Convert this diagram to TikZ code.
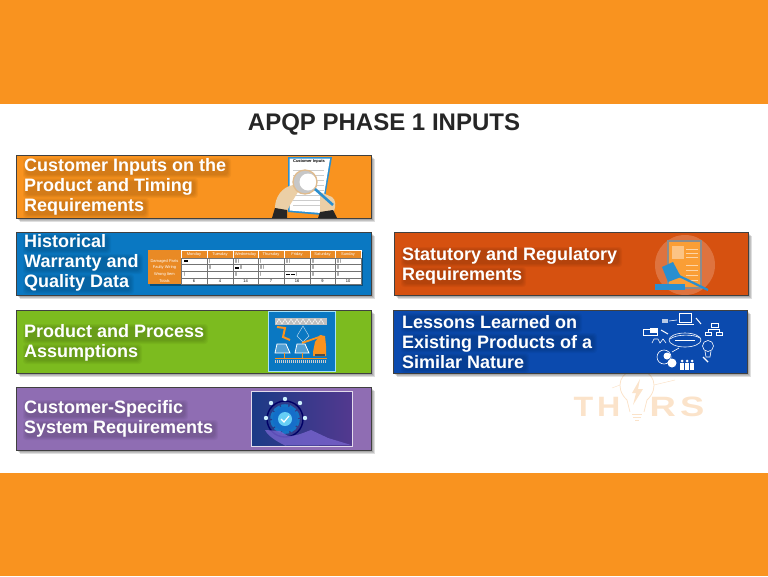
\documentclass[tikz,border=0pt]{standalone}
\usepackage{fontspec}
\setmainfont{Liberation Sans}
\definecolor{bandorange}{HTML}{F9931F}
\definecolor{tableorange}{HTML}{E98A25}
\definecolor{histblue}{HTML}{0A78C2}
\definecolor{assumgreen}{HTML}{7CBB1F}
\definecolor{specpurple}{HTML}{8F6DB3}
\definecolor{statred}{HTML}{D65110}
\definecolor{lessonblue}{HTML}{0B4AAE}
\definecolor{markorange}{HTML}{FBE3CA}
\definecolor{skintan}{HTML}{EBCFA6}
\definecolor{iconblue}{HTML}{2A8FD0}
\definecolor{imgleft}{HTML}{1B3A86}
\definecolor{imgright}{HTML}{53398F}
\tikzset{
  banner/.style={draw=black!75,line width=0.7pt},
  bannertext/.style={anchor=west,inner sep=0pt,align=left,text=white,font=\fontsize{18}{20}\selectfont\bfseries},
  marktext/.style={inner sep=0pt,text=markorange,font=\fontsize{28}{30}\selectfont\bfseries\addfontfeatures{LetterSpace=12}},
  tablecell/.style={fill=white,draw=black!55,line width=0.3pt},
  tablehead/.style={fill=tableorange,draw=white,line width=0.3pt},
  tabletext/.style={inner sep=0pt,font=\fontsize{4}{4.5}\selectfont},
  whiteline/.style={draw=white,line width=0.6pt},
}
\begin{document}
\begin{tikzpicture}[x=1pt,y=-1pt]
  \useasboundingbox (0,0) rectangle (768,576);
  \fill[bandorange] (0,0) rectangle (768,104);
  \fill[bandorange] (0,473) rectangle (768,576);
  \node[inner sep=0pt,font=\fontsize{24}{28}\selectfont\bfseries,text=black!85] (title) at (384,124) {APQP PHASE 1 INPUTS};

  % watermark
  \node[marktext,xscale=1.15] (markleft) at (597,407) {TH};
  \node[marktext,xscale=1.3] (markright) at (677,407) {RS};
  \draw[markorange,line width=0.8pt] (630,412) -- (627,400) .. controls (614,388) and (620,370) .. (637,370) .. controls (654,370) and (660,388) .. (647,400) -- (644,412);
  \draw[markorange,line width=0.5pt] (612,388) -- (620,385) (654,385) -- (675,380);
  \fill[markorange] (640,379) -- (632,393) -- (636,393) -- (633,405) -- (643,389) -- (638,389) -- cycle;
  \draw[markorange,line width=1pt] (632,414) -- (642,414) (633,417) -- (641,417) (635,420) -- (639,420);

  % banners
  \foreach \xa/\ya/\xb/\yb in {16/155/371/218,16/232/371/295,16/310/371/373,16/387/371/450,394/232/748/295,393/310/747/373}
    \foreach \s in {1,2,3,4}
      \fill[black,opacity=0.13] (\xa+\s,\ya+\s) rectangle (\xb+\s,\yb+\s);
  \draw[banner,fill=bandorange] (16,155) rectangle (371,218);
  \draw[banner,fill=histblue] (16,232) rectangle (371,295);
  \draw[banner,fill=assumgreen] (16,310) rectangle (371,373);
  \draw[banner,fill=specpurple] (16,387) rectangle (371,450);
  \draw[banner,fill=statred] (394,232) rectangle (748,295);
  \draw[banner,fill=lessonblue] (393,310) rectangle (747,373);

  % soft darkening behind the banner lines
  \foreach \x/\y/\w in {24/166/202,24/186/169,24/206/120,24/242/82,24/262/114,24/282/105,24/332/179,24/352/113,24/408/159,24/428/189,402/255/215,402/275/119,402/321/175,402/341/190,402/361/122}
    \foreach \s in {0,1,2,3}
      \fill[black,opacity=0.04,rounded corners=3pt] (\x+2-\s,\y-5-\s) rectangle (\x+\w+2+\s,\y+9+\s);

  \node[bannertext] (customer) at (24,187.3) {Customer Inputs on the\\Product and Timing\\Requirements};
  \node[bannertext] (historical) at (24,263.3) {Historical\\Warranty and\\Quality Data};
  \node[bannertext] (assumptions) at (24,343.3) {Product and Process\\Assumptions};
  \node[bannertext] (specific) at (24,419.3) {Customer-Specific\\System Requirements};
  \node[bannertext] (statutory) at (402,266.3) {Statutory and Regulatory\\Requirements};
  \node[bannertext] (lessons) at (402,342) {Lessons Learned on\\Existing Products of a\\Similar Nature};

  % customer inputs icon
  \fill[iconblue] (288,157) -- (332,157) -- (322,215) -- (288,212) -- cycle;
  \fill[white] (289.5,158.5) -- (330,158.5) -- (321,213) -- (289.5,210.5) -- cycle;
  \node[inner sep=0pt,font=\fontsize{4}{5}\selectfont\bfseries] (inputsdoc) at (309,161.5) {Customer Inputs};
  \foreach \y in {170,175,...,205} \draw[black!20,line width=0.4pt] (293,\y) -- (324,\y);
  \fill[skintan] (275,208) .. controls (275,197) and (282,187) .. (293,185) -- (298,192) -- (290,205) -- (287,211) -- cycle;
  \fill[skintan] (320,192) -- (332,197) .. controls (336,200) and (336,206) .. (334,211) -- (320,212) -- cycle;
  \fill[black!22] (305,182) circle (12);
  \fill[white] (308,182) circle (8.5);
  \draw[skintan!75!brown,line width=1.3pt] (305,182) circle (12);
  \draw[iconblue,line width=2.6pt] (315,189) -- (333,205);
  \fill[black!85] (272,218) -- (275,208) -- (287,210) -- (287,218) -- cycle;
  \fill[black!85] (318,218) -- (320,212) -- (333,210) -- (337,218) -- cycle;

  % data table
  \fill[black,opacity=0.35] (150,252) rectangle (363,286);
  \fill[tableorange] (148,250) rectangle (361,284);
  \foreach \xa/\xb/\day in {181/207/Monday,207/233/Tuesday,233/258/Wednesday,258/284/Thursday,284/310/Friday,310/335/Saturday,335/361/Sunday}{
    \draw[tablehead] (\xa,250) rectangle (\xb,258);
    \node[tabletext,text=white] at ({(\xa+\xb)/2},254) {\day};
    \draw[tablecell] (\xa,258) rectangle (\xb,264.5);
    \draw[tablecell] (\xa,264.5) rectangle (\xb,271);
    \draw[tablecell] (\xa,271) rectangle (\xb,278);
    \draw[tablecell] (\xa,278) rectangle (\xb,284);
  }
  \foreach \y/\rowname in {261.2/Damaged Parts,267.7/Faulty Wiring,274.5/Wrong Item,281/Totals}
    \node[tabletext,text=white] at (164.5,\y) {\rowname};
  \foreach \x/\total in {194/6,220/4,245.5/14,271/7,297/16,322.5/9,348/10}
    \node[tabletext] at (\x,281) {\total};
  \foreach \x/\y/\tally in {184/261.2/{\rule[0.2pt]{4pt}{1.6pt}},209/261.2/|,235/261.2/||\,|,260/261.2/|,286/261.2/||\,|,312/261.2/||,337/261.2/||\,|,
      209/267.7/||,235/267.7/{\rule[0.2pt]{4pt}{1.6pt}\;||},260/267.7/||\,|,312/267.7/||,337/267.7/||,
      184/274.5/|,235/274.5/||,260/274.5/|,286/274.5/{\rule[0.2pt]{4pt}{1.6pt}\,\rule[0.2pt]{4pt}{1.6pt}\;|},312/274.5/||,337/274.5/||}
    \node[tabletext,anchor=west] at (\x,\y) {\tally};

  % factory icon
  \fill[histblue] (268,311) rectangle (335,371);
  \draw[cyan!35!white,line width=0.8pt] (268,311) rectangle (335,371);
  \fill[black!25] (275,318) rectangle (327,325);
  \draw[white,line width=0.5pt] \foreach \x in {276,282,...,322} {(\x,324) -- (\x+3,319) -- (\x+6,324)};
  \draw[bandorange,line width=2pt] (277,327) -- (285,328) -- (283,337) -- (290,340);
  \draw[white!70!histblue,line width=0.5pt] (303,326) -- (297,336) -- (303,342) -- (309,336) -- cycle;
  \draw[bandorange,line width=1.8pt] (302,343) -- (322,336);
  \fill[bandorange] (313,352) -- (315,342) -- (320,335) -- (325,336) -- (326,346) -- (326,356) -- (313,356) -- cycle;
  \fill[black!70] (315,354) rectangle (325,356);
  \draw[white,line width=0.8pt,fill=white!30!histblue] (275,353) -- (277,344) -- (286,344) -- (290,353) -- cycle;
  \draw[white,line width=0.8pt,fill=white!30!histblue] (295,353) -- (297,344) -- (305,344) -- (309,353) -- cycle;
  \draw[bandorange,line width=0.9pt] (275,358) -- (327,358);
  \draw[bandorange,line width=0.6pt] (284,353) -- (284,358) (302,353) -- (302,358);
  \draw[white!80!black,line width=2.4pt,dash pattern=on 1pt off 1pt] (275,361.5) -- (327,361.5);

  % system requirements icon
  \shade[left color=imgleft,right color=imgright] (251,391) rectangle (352,446);
  \draw[white!75!specpurple,line width=0.8pt] (251,391) rectangle (352,446);
  \fill[blue!40!cyan,opacity=0.55] (285,419) circle (13);
  \draw[cyan!55!blue,line width=2.6pt,dash pattern=on 7pt off 1.5pt] (285,419) circle (13.5);
  \draw[black!60!blue,line width=1.4pt] (285,419) circle (18);
  \fill[cyan!60!white] (285,419) circle (7);
  \draw[white,line width=1.2pt] (281,419) -- (284,422) -- (289,416);
  \foreach \x/\y in {285/399,271/403,300/403,266/418,305/418}
    \fill[white!80!cyan] (\x,\y) circle (2.2);
  \fill[blue!30!specpurple!85!white,opacity=0.75] (265,430) -- (280,431) -- (288,436) .. controls (298,436) and (305,432) .. (311,430) -- (328,438) -- (351,445) -- (285,445.5) .. controls (276,441) and (268,436) .. (265,430) -- cycle;

  % gavel icon
  \fill[white,opacity=0.2] (685,265) circle (30);
  \fill[black!45] (667,240) rectangle (702,289);
  \fill[bandorange!90!white] (669,242) rectangle (700,287);
  \fill[bandorange!55!white] (672,246) rectangle (684,259);
  \foreach \y in {249,253,257,265,270,275,280} \draw[white!60!bandorange,line width=0.5pt] (686,\y) -- (698,\y);
  \fill[iconblue] (655,284) rectangle (685,290);
  \draw[iconblue,line width=2.2pt] (675,274) -- (708,290);
  \fill[iconblue] (662,267) -- (673,262) -- (681,277) -- (668,282) -- cycle;

  % lessons learned icon
  \draw[whiteline,line width=0.8pt] (679,313) rectangle (691,322);
  \draw[whiteline] (677,324) -- (694,324);
  \draw[whiteline] (685,340) ellipse (16 and 7);
  \draw[whiteline] (670,339) .. controls (676,334) and (694,334) .. (700,338);
  \draw[whiteline] (675,340) -- (695,340);
  \draw[whiteline] (708,346) circle (5.5);
  \draw[whiteline] (705,351) -- (706,357) -- (710,357) -- (711,351);
  \fill[white!70!lessonblue] (662,319) rectangle (668,323);
  \draw[whiteline] (669,321) -- (677,320);
  \draw[whiteline,line width=1pt] (696,318) -- (701,324);
  \draw[whiteline] (711,323) rectangle (718,327);
  \draw[whiteline] (708,332) -- (708,329) -- (719,329) -- (719,332);
  \draw[whiteline] (705,332) rectangle (711,335) (716,332) rectangle (722,335);
  \draw[whiteline] (643,329) rectangle (657,335);
  \fill[white] (650,328) rectangle (658,333);
  \draw[whiteline,line width=1pt] (661,330) -- (668,334);
  \draw[whiteline] (652,343) -- (654,339) -- (658,339) -- (660,343) -- (663,339) -- (666,343);
  \draw[whiteline] (664,357) circle (7);
  \fill[white] (667,356) circle (3.5);
  \fill[white] (672,363) circle (4.5);
  \draw[whiteline] (672,352) -- (679,348);
  \foreach \x in {682,687,692}{
    \fill[white] (\x,361) circle (1.5);
    \fill[white] (\x-1.8,363) rectangle (\x+1.8,370);
  }
  \draw[whiteline,line width=1.4pt] (703,357) -- (708,362);
\end{tikzpicture}
\end{document}
